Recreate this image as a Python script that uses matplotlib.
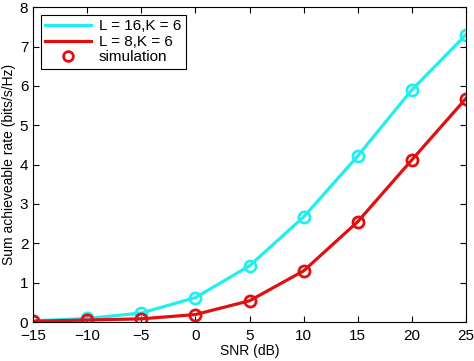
import matplotlib
matplotlib.use('Agg')
import matplotlib.pyplot as plt
from matplotlib.lines import Line2D

plt.rcParams['font.family'] = ['Liberation Sans', 'DejaVu Sans']
plt.rcParams['font.size'] = 11

snr = [-15, -10, -5, 0, 5, 10, 15, 20, 25]
rate_l16 = [0.03, 0.09, 0.23, 0.62, 1.43, 2.67, 4.22, 5.90, 7.30]
rate_l8 = [0.02, 0.05, 0.08, 0.19, 0.54, 1.30, 2.55, 4.12, 5.68]

fig = plt.figure(figsize=(4.74, 3.61), dpi=100)
ax = fig.add_axes([0.07, 0.108, 0.913, 0.872])

cyan = '#22eeee'
red = '#e01010'
ax.plot(snr, rate_l16, color=cyan, linewidth=2.3, marker='o', markersize=8,
        markerfacecolor='none', markeredgewidth=2)
ax.plot(snr, rate_l8, color=red, linewidth=2.3, marker='o', markersize=8,
        markerfacecolor='none', markeredgewidth=2)

ax.set_xlim(-15, 25)
ax.set_ylim(0, 8)
ax.set_xticks(range(-15, 26, 5))
ax.set_xticklabels(['\u221215', '\u221210', '\u22125', '0', '5', '10', '15', '20', '25'])
ax.set_yticks(range(0, 9))
ax.tick_params(direction='in', top=True, right=True, length=4, labelsize=11)
ax.tick_params(axis='x', pad=5)
ax.set_xlabel('SNR (dB)', fontsize=10, labelpad=1)
ax.set_ylabel('Sum achieveable rate (bits/s/Hz)', fontsize=10, labelpad=3)

handles = [
    Line2D([], [], color=cyan, linewidth=2.3),
    Line2D([], [], color=red, linewidth=2.3),
    Line2D([], [], color=red, linestyle='none', marker='o', markersize=7,
           markerfacecolor='none', markeredgewidth=2),
]
leg = ax.legend(handles, ['L = 16,K = 6', 'L = 8,K = 6', 'simulation'],
                loc='upper left', fancybox=False, framealpha=1, edgecolor='black',
                fontsize=11, handlelength=3.0, borderaxespad=0.5,
                labelspacing=0.1, borderpad=0.3, handletextpad=0.5)
leg.get_frame().set_linewidth(0.8)

fig.savefig('out.png', dpi=100)
